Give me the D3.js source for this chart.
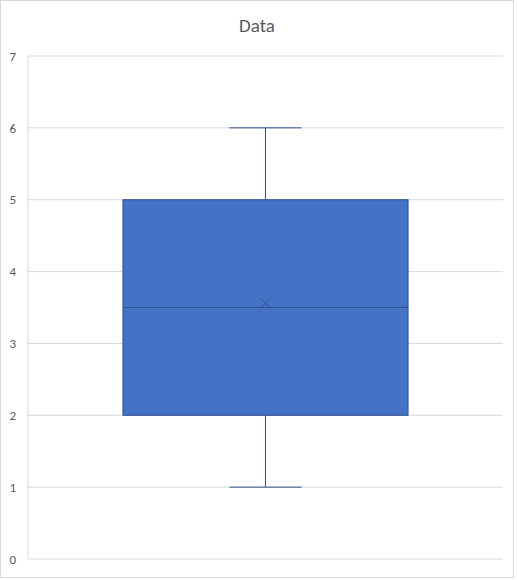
<!DOCTYPE html>
<html>
<head>
<meta charset="utf-8">
<script src="https://cdn.jsdelivr.net/npm/d3@7"></script>
<style>
  body { margin: 0; background: #fff; }
  text { font-family: Calibri, Carlito, "Liberation Sans", sans-serif; }
</style>
</head>
<body>
<svg id="chart"></svg>
<script>
// box stats
const categories = ['Data']
const mins = [1]
const q1s = [2]
const medians = [3.5]
const q3s = [5]
const maxs = [6]
const means = [3.56]
const yTicks = [0, 1, 2, 3, 4, 5, 6, 7]

const width = 517
const height = 580

const svg = d3.select('#chart')
  .attr('width', width)
  .attr('height', height)

// chart frame
svg.append('rect')
  .attr('x', 0.5).attr('y', 0.5)
  .attr('width', 513).attr('height', 577)
  .attr('fill', '#fff')
  .attr('stroke', '#d9d9d9')

const plotLeft = 28
const plotRight = 503
const plotTop = 56
const plotBottom = 559

const yScale = d3.scaleLinear().domain([0, 7]).range([plotBottom, plotTop])
const xScale = d3.scaleBand().domain(categories).range([plotLeft, plotRight]).paddingInner(0).paddingOuter(0.333)

// gridlines
svg.append('g').selectAll('line')
  .data(yTicks)
  .enter()
  .append('line')
  .attr('x1', plotLeft).attr('x2', plotRight)
  .attr('y1', d => yScale(d)).attr('y2', d => yScale(d))
  .attr('stroke', '#d9d9d9')

svg.append('line')
  .attr('x1', plotLeft).attr('x2', plotLeft)
  .attr('y1', plotTop).attr('y2', plotBottom)
  .attr('stroke', '#d9d9d9')

// y axis labels
const yAxis = svg.append('g')
  .attr('transform', `translate(${plotLeft},0)`)
  .call(d3.axisLeft(yScale).tickValues(yTicks).tickSize(0).tickPadding(12).tickFormat(d3.format('d')))
yAxis.select('.domain').remove()
yAxis.selectAll('text')
  .attr('fill', '#595959')
  .style('font-size', '13px')

// title
svg.append('text')
  .attr('x', 257).attr('y', 32)
  .attr('text-anchor', 'middle')
  .attr('fill', '#595959')
  .style('font-size', '19px')
  .text('Data')

const boxes = categories.map((c, i) => ({
  c, min: mins[i], q1: q1s[i], med: medians[i], q3: q3s[i], max: maxs[i], mean: means[i]
}))

const g = svg.append('g').selectAll('g').data(boxes).enter().append('g')
const cx = d => xScale(d.c) + xScale.bandwidth() / 2
const stroke = '#2f528f'

// whiskers
g.append('line')
  .attr('x1', cx).attr('x2', cx)
  .attr('y1', d => yScale(d.max)).attr('y2', d => yScale(d.q3))
  .attr('stroke', stroke)
g.append('line')
  .attr('x1', cx).attr('x2', cx)
  .attr('y1', d => yScale(d.q1)).attr('y2', d => yScale(d.min))
  .attr('stroke', stroke)
g.selectAll('.cap')
  .data(d => [d.min, d.max].map(v => ({ d, v })))
  .enter()
  .append('line')
  .attr('x1', o => cx(o.d) - 36).attr('x2', o => cx(o.d) + 36)
  .attr('y1', o => yScale(o.v)).attr('y2', o => yScale(o.v))
  .attr('stroke', stroke)

// box
g.append('rect')
  .attr('x', d => xScale(d.c))
  .attr('y', d => yScale(d.q3))
  .attr('width', xScale.bandwidth())
  .attr('height', d => yScale(d.q1) - yScale(d.q3))
  .attr('fill', '#4472c4')
  .attr('stroke', stroke)

// median
g.append('line')
  .attr('x1', d => xScale(d.c)).attr('x2', d => xScale(d.c) + xScale.bandwidth())
  .attr('y1', d => yScale(d.med)).attr('y2', d => yScale(d.med))
  .attr('stroke', stroke)

// mean marker
g.append('path')
  .attr('d', d => {
    const x = cx(d), y = yScale(d.mean), s = 5
    return `M${x - s},${y - s}L${x + s},${y + s}M${x - s},${y + s}L${x + s},${y - s}`
  })
  .attr('stroke', stroke)
  .attr('fill', 'none')
</script>
</body>
</html>
